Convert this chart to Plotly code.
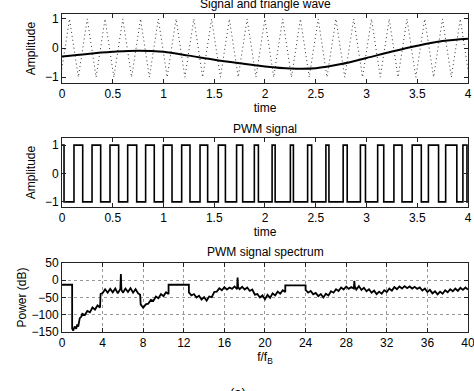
import plotly.graph_objects as go

W, H = 474, 391

# ---------------- data ----------------
# top panel: modulating signal (read at 0.25 s steps)
sig_t = [0, 0.25, 0.5, 0.75, 1.0, 1.25, 1.5, 1.75, 2.0, 2.25, 2.5, 2.75, 3.0, 3.25, 3.5, 3.75, 4.0]
sig_v = [-0.29, -0.20, -0.13, -0.09, -0.13, -0.26, -0.40, -0.52, -0.63, -0.70, -0.69, -0.55, -0.34, -0.12, 0.08, 0.24, 0.32]

# triangle carrier: vertex times (troughs / peaks)
tri_trough_t = [-0.014, 0.161, 0.336, 0.511, 0.686, 0.861, 1.036, 1.211, 1.386, 1.561, 1.736, 1.911,
                2.086, 2.261, 2.436, 2.611, 2.786, 2.961, 3.136, 3.311, 3.486, 3.661, 3.836, 4.011]
tri_peak_t = [0.074, 0.249, 0.424, 0.599, 0.774, 0.949, 1.124, 1.299, 1.474, 1.649, 1.824, 1.999,
              2.174, 2.349, 2.524, 2.699, 2.874, 3.049, 3.224, 3.399, 3.574, 3.749, 3.924]

# PWM: rising / falling edge times
pwm_rise = [0, 0.118, 0.296, 0.473, 0.647, 0.824, 0.998, 1.179, 1.36, 1.54, 1.72, 1.895,
            2.07, 2.25, 2.42, 2.60, 2.77, 2.94, 3.11, 3.27, 3.45, 3.61, 3.78, 3.95]
pwm_fall = [0.02, 0.204, 0.381, 0.558, 0.736, 0.909, 1.084, 1.261, 1.435, 1.61, 1.78, 1.935,
            2.10, 2.28, 2.46, 2.63, 2.81, 2.99, 3.17, 3.35, 3.54, 3.71, 3.89, 3.99]

# spectrum (f/fB, dB)
spec_f = [0, 1.0, 1.0, 1.1, 1.25, 1.4, 1.5, 1.6, 1.75, 1.9, 2.0, 2.25, 2.5, 2.75, 3.0, 3.25, 3.5, 3.75, 3.8,
          4.0, 4.25, 4.5, 4.75, 5.0, 5.25, 5.5, 5.75, 5.8, 5.85, 6.0, 6.25, 6.5, 6.75, 7.0, 7.25, 7.5, 7.7,
          7.75, 8.0, 8.25, 8.5, 8.75, 9.0, 9.25, 9.5, 9.75, 10.0, 10.25, 10.5, 10.5, 12.5, 12.5,
          12.75, 13.0, 13.25, 13.5, 13.75, 14.0, 14.25, 14.5, 14.75, 15.0, 15.25, 15.5, 15.75, 16.0,
          16.25, 16.5, 16.75, 17.0, 17.25, 17.3, 17.35, 17.5, 17.75, 18.0, 18.25, 18.5, 18.75, 19.0,
          19.25, 19.5, 19.75, 20.0, 20.25, 20.5, 20.75, 21.0, 21.25, 21.5, 21.75, 22.0, 22.0, 23.0,
          23.75, 24.0, 24.0, 24.25, 24.5, 24.75, 25.0, 25.25, 25.5, 25.75, 26.0, 26.25, 26.5, 26.75,
          27.0, 27.25, 27.5, 27.75, 28.0, 28.25, 28.5, 28.75, 28.8, 28.85, 29.0, 29.25, 29.5, 29.75,
          30.0, 30.25, 30.5, 30.75, 31.0, 31.25, 31.5, 31.75, 32.0, 32.25, 32.5, 32.75, 33.0, 33.25,
          33.5, 33.75, 34.0, 34.25, 34.5, 34.75, 35.0, 35.25, 35.5, 35.75, 36.0, 36.25, 36.5, 36.75,
          37.0, 37.25, 37.5, 37.75, 38.0, 38.25, 38.5, 38.75, 39.0, 39.25, 39.5, 39.75, 40.0]
spec_db = [-13, -13, -140, -146, -134, -141, -128, -134, -110, -106, -97, -101, -89, -93, -79, -85, -73, -79, -40,
           -37, -26, -36, -25, -35, -24, -38, -25, 18, -27, -36, -24, -34, -23, -36, -26, -38, -42,
           -70, -80, -70, -68, -57, -60, -47, -52, -40, -46, -35, -40, -13, -13, -35,
           -44, -40, -50, -45, -56, -49, -59, -47, -49, -34, -33, -23, -29, -20,
           -27, -21, -25, -18, -26, 8, -20, -26, -19, -27, -21, -31, -27, -42,
           -40, -50, -44, -55, -42, -51, -38, -44, -33, -39, -29, -34, -15, -14,
           -15, -15, -28, -36, -31, -41, -37, -46, -40, -50, -39, -44, -32, -36,
           -26, -31, -21, -27, -18, -25, -20, -24, -2, -18, -27, -17, -28, -22,
           -32, -26, -36, -30, -40, -33, -39, -29, -34, -24, -30, -20, -26, -18,
           -24, -17, -23, -18, -24, -19, -25, -21, -30, -24, -34, -28, -38, -32,
           -41, -33, -39, -29, -35, -26, -32, -24, -31, -22, -28, -21, -27]

x_ticks_t = [0, 0.5, 1, 1.5, 2, 2.5, 3, 3.5, 4]
y_ticks_amp = [-1, 0, 1]
x_ticks_f = [0, 4, 8, 12, 16, 20, 24, 28, 32, 36, 40]
y_ticks_db = [-150, -100, -50, 0, 50]

# ---------------- build marks ----------------
tri_t = []
tri_v = []
for i, tt in enumerate(tri_trough_t):
    tri_t.append(tt); tri_v.append(-1)
    if i < len(tri_peak_t):
        tri_t.append(tri_peak_t[i]); tri_v.append(1)

pwm_t = []
pwm_v = []
for r, f in zip(pwm_rise, pwm_fall):
    pwm_t += [r, f]
    pwm_v += [1, -1]
pwm_t.append(4.0); pwm_v.append(-1)

fig = go.Figure()
fig.add_trace(go.Scatter(x=tri_t, y=tri_v, mode="lines", xaxis="x", yaxis="y",
                         line=dict(color="#333", width=1, dash="1px,3px")))
fig.add_trace(go.Scatter(x=sig_t, y=sig_v, mode="lines", xaxis="x", yaxis="y",
                         line=dict(color="black", width=2, shape="spline")))
fig.add_trace(go.Scatter(x=pwm_t, y=pwm_v, mode="lines", xaxis="x2", yaxis="y2",
                         line=dict(color="black", width=1.6, shape="hv")))
fig.add_trace(go.Scatter(x=spec_f, y=spec_db, mode="lines", xaxis="x3", yaxis="y3",
                         line=dict(color="black", width=1.8)))

FONT = "Liberation Sans, Arial, Helvetica, sans-serif"
xd = [62 / W, 468 / W]

def ydom(top, bot):
    return [1 - bot / H, 1 - top / H]

common = dict(showline=True, mirror="ticks", ticks="inside", ticklen=4, linecolor="#222",
              tickcolor="#222", linewidth=1, zeroline=False, showgrid=False, automargin=False,
              ticklabeloverflow="allow",
              tickfont=dict(size=12, color="black", family=FONT))

fig.update_layout(
    width=W, height=H, margin=dict(l=0, r=0, t=0, b=0, autoexpand=False),
    paper_bgcolor="white", plot_bgcolor="white", showlegend=False,
    font=dict(family=FONT, color="black", size=12),
    xaxis=dict(domain=xd, range=[0, 4.0001], tickvals=x_ticks_t, anchor="y",
               title=dict(text="time", standoff=2, font=dict(size=12)), **common),
    yaxis=dict(domain=ydom(14, 83), range=[-1.2, 1.17], tickvals=y_ticks_amp, anchor="x",
               title=dict(text="Amplitude", standoff=6, font=dict(size=12)), **common),
    xaxis2=dict(domain=xd, range=[0, 4.0001], tickvals=x_ticks_t, anchor="y2",
                title=dict(text="time", standoff=2, font=dict(size=12)), **common),
    yaxis2=dict(domain=ydom(138, 207), range=[-1.18, 1.25], tickvals=y_ticks_amp, anchor="x2",
                title=dict(text="Amplitude", standoff=6, font=dict(size=12)), **common),
    xaxis3=dict(domain=xd, range=[0, 40.001], tickvals=x_ticks_f, anchor="y3",
                title=dict(text="f/f<sub>B</sub>", standoff=2, font=dict(size=12)), **common),
    yaxis3=dict(domain=ydom(263, 332), range=[-150, 50], tickvals=y_ticks_db, anchor="x3",
                title=dict(text="Power (dB)", standoff=2, font=dict(size=12)), **common),
)
fig.update_xaxes(selector=dict(anchor="y3"), showgrid=True, gridcolor="#999", griddash="dot", gridwidth=1)
fig.update_yaxes(selector=dict(anchor="x3"), showgrid=True, gridcolor="#999", griddash="dot", gridwidth=1)

titles = [("Signal and triangle wave", 4), ("PWM signal", 129), ("PWM signal spectrum", 252)]
for txt, yc in titles:
    fig.add_annotation(text=txt, xref="paper", yref="paper", x=265 / W, y=1 - yc / H,
                       xanchor="center", yanchor="middle", showarrow=False,
                       font=dict(size=12, family=FONT, color="black"))
fig.add_annotation(text="(a)", xref="paper", yref="paper", x=238 / W, y=1 - 383 / H,
                   xanchor="center", yanchor="top", showarrow=False,
                   font=dict(size=13, family=FONT, color="black"))

fig.write_html("out.html", config={"displayModeBar": False},
               post_script="document.body.style.margin='0px';document.body.style.overflow='hidden';")
